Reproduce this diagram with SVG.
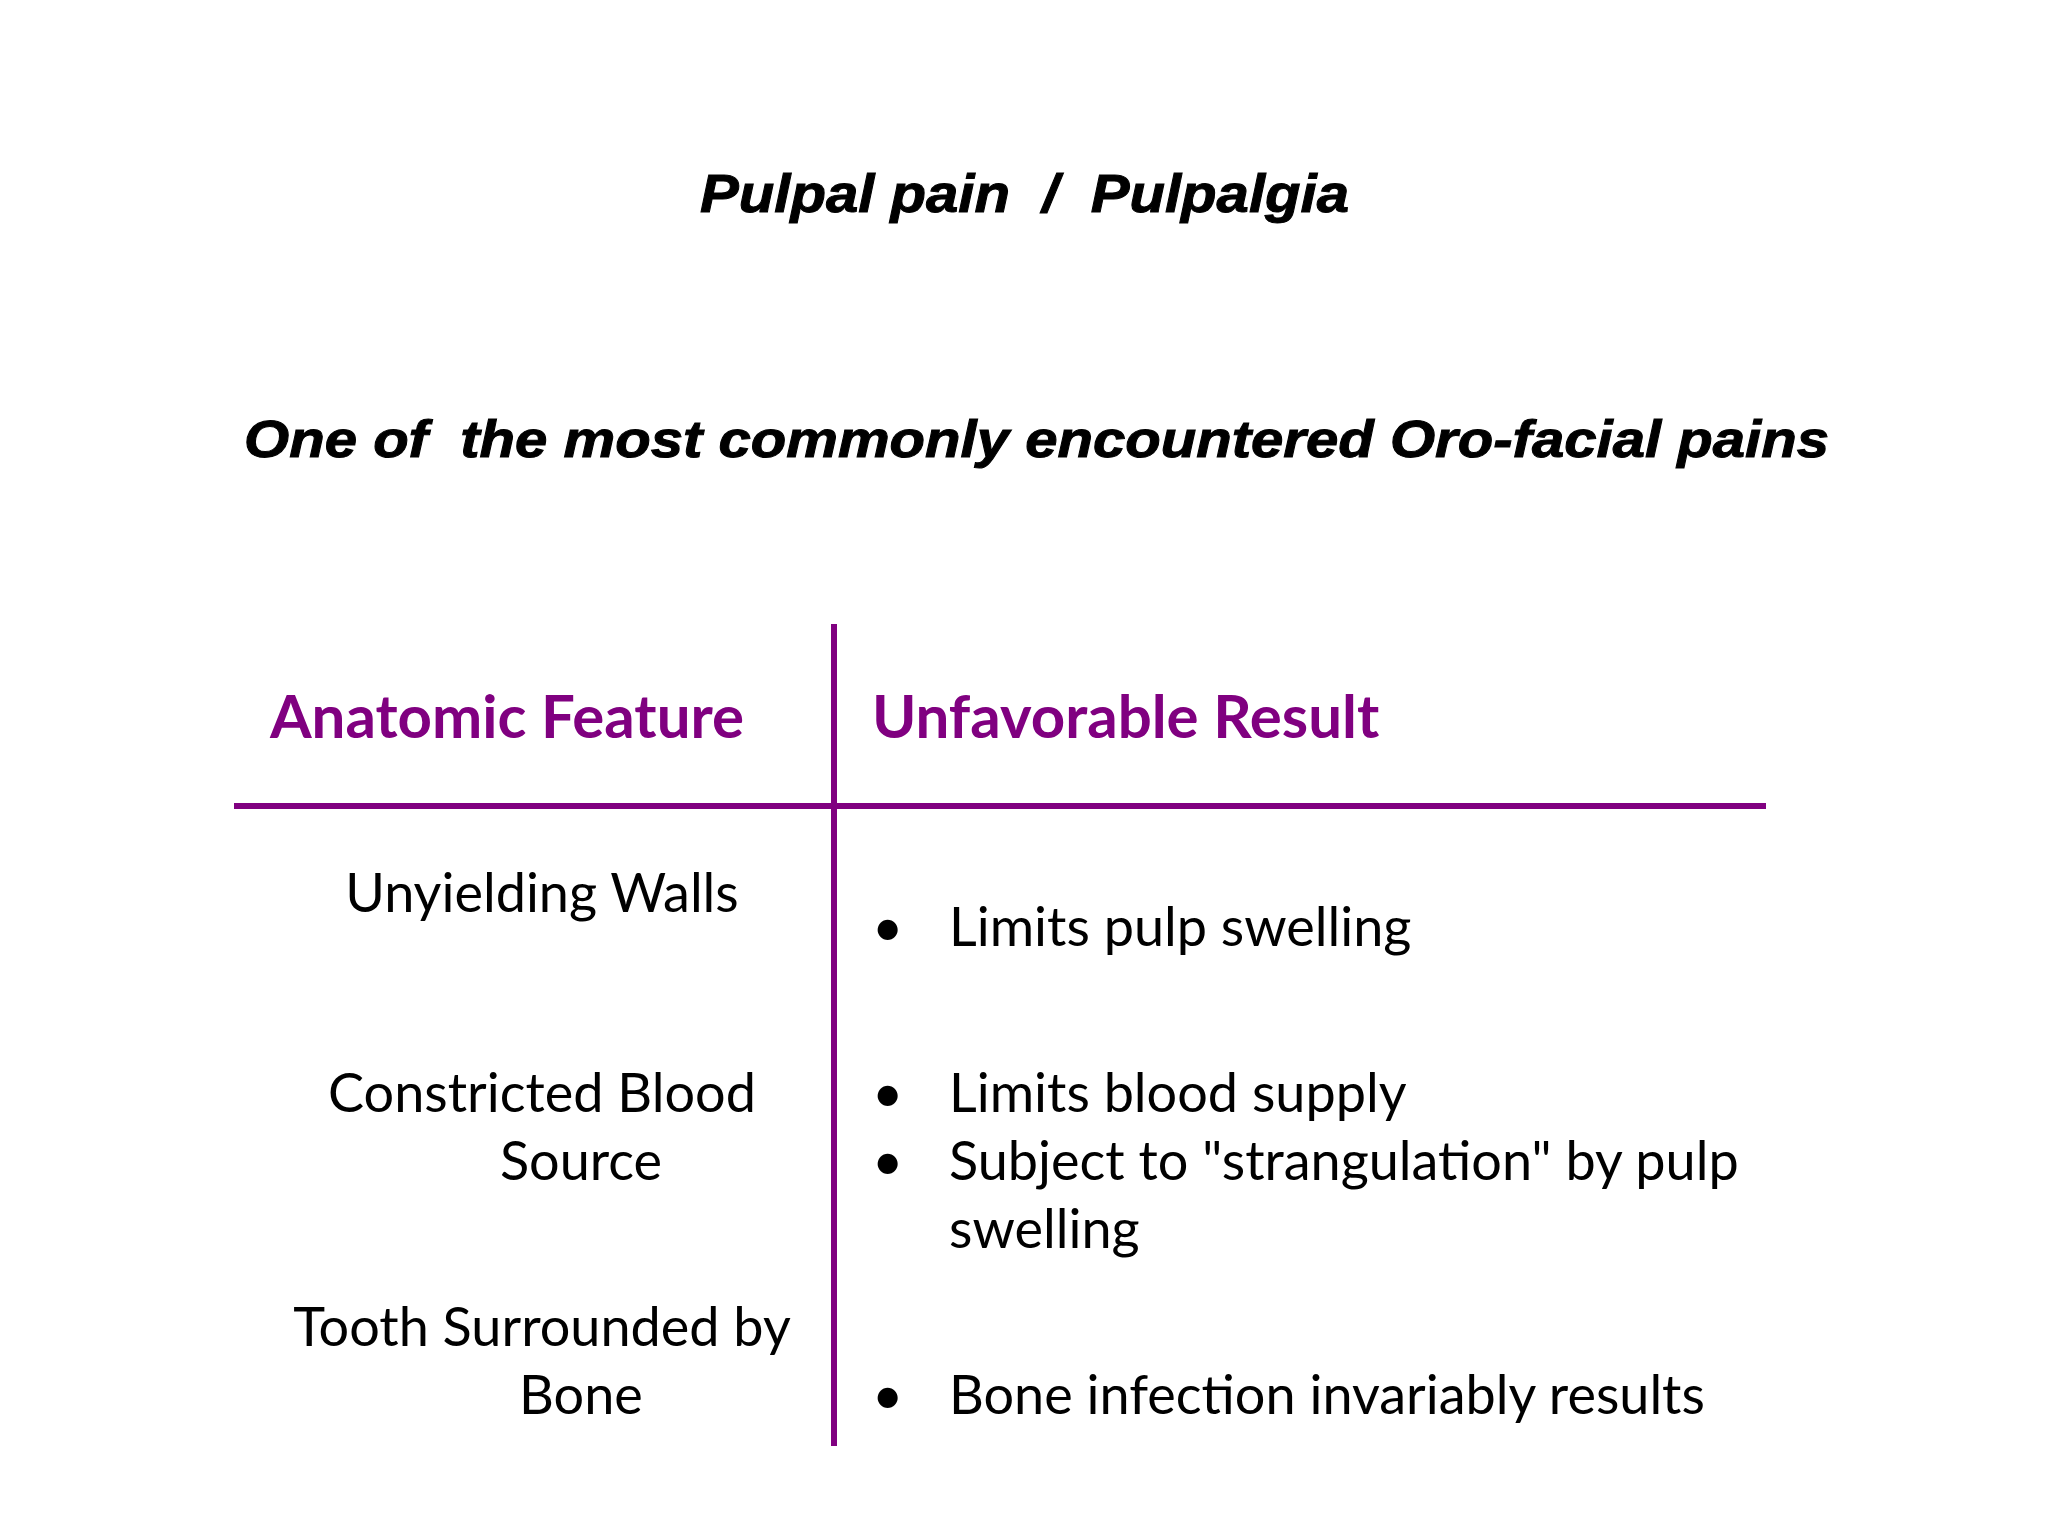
<svg xmlns="http://www.w3.org/2000/svg" width="2048" height="1536" viewBox="0 0 2048 1536">
<style>
.t{font-family:"Liberation Sans",Arial,sans-serif;font-weight:bold;font-style:italic;fill:#000}
.h{font-family:Lato,"Open Sans",sans-serif;font-weight:bold;fill:#800080;font-size:60px}
.b{font-family:Lato,"Open Sans",sans-serif;fill:#000;font-size:54px}
.ln{stroke:#800080;stroke-width:6}
</style>
<rect width="2048" height="1536" fill="#fff"/>
<text id="title" class="t" x="700" y="212" font-size="54" stroke="#000" stroke-width="1" textLength="649" lengthAdjust="spacingAndGlyphs" xml:space="preserve">Pulpal pain  /  Pulpalgia</text>
<text id="subtitle" class="t" x="244" y="457" font-size="52" stroke="#000" stroke-width="1" textLength="1585" lengthAdjust="spacingAndGlyphs" xml:space="preserve">One of  the most commonly encountered Oro-facial pains</text>
<g id="connectors">
<line class="ln" x1="834" y1="624" x2="834" y2="1446"/>
<line class="ln" x1="234" y1="806" x2="1766" y2="806"/>
</g>
<g id="headers">
<text class="h" x="270" y="738">Anatomic Feature</text>
<text class="h" x="872" y="738">Unfavorable Result</text>
</g>
<g id="left">
<text class="b" x="542" y="912" text-anchor="middle">Unyielding Walls</text>
<text class="b" x="542" y="1112" text-anchor="middle">Constricted Blood</text>
<text class="b" x="581" y="1180" text-anchor="middle">Source</text>
<text class="b" x="542" y="1346" text-anchor="middle">Tooth Surrounded by</text>
<text class="b" x="581" y="1414" text-anchor="middle">Bone</text>
</g>
<g id="right">
<text class="b" x="872" y="946">•</text><text class="b" x="949" y="946">Limits pulp swelling</text>
<text class="b" x="872" y="1112">•</text><text class="b" x="949" y="1112">Limits blood supply</text>
<text class="b" x="872" y="1180">•</text><text class="b" x="949" y="1180">Subject to "strangulation" by pulp</text>
<text class="b" x="949" y="1248">swelling</text>
<text class="b" x="872" y="1414">•</text><text class="b" x="949" y="1414">Bone infection invariably results</text>
</g>
</svg>
